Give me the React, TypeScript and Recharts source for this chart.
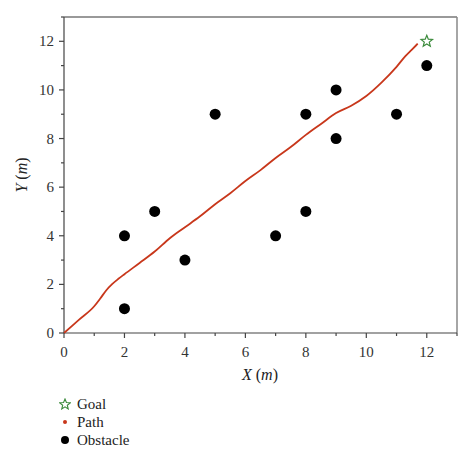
import React from "react";
import {
  ComposedChart,
  Scatter,
  XAxis,
  YAxis,
  ReferenceLine,
} from "recharts";

// path from start to goal
const pathX = [0, 0.5, 1, 1.2, 1.4, 1.6, 1.8, 2, 2.5, 3, 3.5, 4, 4.5, 5, 5.5, 6, 6.5, 7, 7.5, 8, 8.5, 9, 9.5, 10, 10.5, 11, 11.3, 11.5, 11.7];
const pathY = [0, 0.55, 1.1, 1.42, 1.76, 2.02, 2.23, 2.42, 2.88, 3.35, 3.9, 4.35, 4.8, 5.3, 5.75, 6.25, 6.7, 7.2, 7.65, 8.15, 8.6, 9.05, 9.35, 9.75, 10.3, 10.95, 11.4, 11.65, 11.9];

const obstacleX = [2, 2, 3, 4, 5, 7, 8, 8, 9, 9, 11, 12];
const obstacleY = [1, 4, 5, 3, 9, 4, 5, 9, 8, 10, 9, 11];

const goalX = [12];
const goalY = [12];

const axisTicks = [0, 1, 2, 3, 4, 5, 6, 7, 8, 9, 10, 11, 12, 13];

const pathData = pathX.map((x, i) => ({ x, y: pathY[i] }));
const obstacleData = obstacleX.map((x, i) => ({ x, y: obstacleY[i] }));
const goalData = goalX.map((x, i) => ({ x, y: goalY[i] }));

const FONT = "'Liberation Serif', 'DejaVu Serif', serif";
const AXIS = "#444";

function starPoints(cx: number, cy: number, outer: number, inner: number) {
  const pts: string[] = [];
  for (let i = 0; i < 10; i++) {
    const r = i % 2 === 0 ? outer : inner;
    const a = -Math.PI / 2 + (i * Math.PI) / 5;
    pts.push(`${cx + r * Math.cos(a)},${cy + r * Math.sin(a)}`);
  }
  return pts.join(" ");
}

const XTick = (props: any) => {
  const { x, y, payload } = props;
  const major = payload.value % 2 === 0;
  return (
    <g>
      <line x1={x} x2={x} y1={y} y2={y + (major ? 5 : 3)} stroke={AXIS} strokeWidth={1.2} />
      {major && (
        <text x={x} y={y + 24} textAnchor="middle" fontSize={15} fill="#333" fontFamily={FONT}>
          {payload.value}
        </text>
      )}
    </g>
  );
};

const YTick = (props: any) => {
  const { x, y, payload } = props;
  const major = payload.value % 2 === 0;
  return (
    <g>
      <line x1={x} x2={x - (major ? 5 : 3)} y1={y} y2={y} stroke={AXIS} strokeWidth={1.2} />
      {major && (
        <text x={x - 10} y={y + 5} textAnchor="end" fontSize={15} fill="#333" fontFamily={FONT}>
          {payload.value}
        </text>
      )}
    </g>
  );
};

const GoalShape = (props: any) => {
  const { cx, cy } = props;
  return (
    <polygon
      points={starPoints(cx, cy, 6, 2.6)}
      fill="#fff"
      stroke="#3a8a3a"
      strokeWidth={1.2}
    />
  );
};

const ObstacleShape = (props: any) => {
  const { cx, cy } = props;
  return <circle cx={cx} cy={cy} r={5.5} fill="#000" />;
};

const LegendBox = () => {
  const row = { display: "flex", alignItems: "center", height: 18 };
  const txt = { marginLeft: 6, fontSize: 15, color: "#222", fontFamily: FONT };
  return (
    <div style={{ position: "absolute", left: 59, top: 395 }}>
      <div style={row}>
        <svg width={12} height={12}>
          <polygon points={starPoints(6, 6.5, 5.5, 2.4)} fill="#fff" stroke="#3a8a3a" strokeWidth={1.1} />
        </svg>
        <span style={txt}>Goal</span>
      </div>
      <div style={row}>
        <svg width={12} height={12}>
          <circle cx={6} cy={6} r={2} fill="#c8371b" />
        </svg>
        <span style={txt}>Path</span>
      </div>
      <div style={row}>
        <svg width={12} height={12}>
          <circle cx={6} cy={6} r={4} fill="#000" />
        </svg>
        <span style={txt}>Obstacle</span>
      </div>
    </div>
  );
};

export default function App() {
  return (
    <div style={{ position: "absolute", left: 0, top: 0, width: 474, height: 462, background: "#fff" }}>
      <ComposedChart
        width={474}
        height={462}
        margin={{ top: 17, right: 17, bottom: 89, left: 14 }}
      >
        <XAxis
          type="number"
          dataKey="x"
          domain={[0, 13]}
          ticks={axisTicks}
          interval={0}
          tickLine={false}
          tickSize={0}
          tickMargin={0}
          tick={<XTick />}
          height={40}
          stroke={AXIS}
          strokeWidth={1.2}
          label={{
            content: () => (
              <text x={260} y={380} textAnchor="middle" fontSize={16} fill="#222" fontFamily={FONT}>
                <tspan fontStyle="italic">X</tspan> (<tspan fontStyle="italic">m</tspan>)
              </text>
            ),
          }}
        />
        <YAxis
          type="number"
          dataKey="y"
          domain={[0, 13]}
          ticks={axisTicks}
          interval={0}
          tickLine={false}
          tickSize={0}
          tickMargin={0}
          tick={<YTick />}
          width={50}
          stroke={AXIS}
          strokeWidth={1.2}
          label={{
            content: () => (
              <text
                x={27}
                y={175}
                textAnchor="middle"
                fontSize={16}
                fill="#222"
                fontFamily={FONT}
                transform="rotate(-90 27 175)"
              >
                <tspan fontStyle="italic">Y</tspan> (<tspan fontStyle="italic">m</tspan>)
              </text>
            ),
          }}
        />
        <ReferenceLine y={13} stroke="#777" strokeWidth={1.5} />
        <ReferenceLine x={13} stroke="#888" strokeWidth={1.5} />
        <Scatter
          name="Path"
          data={pathData}
          line={{ stroke: "#c8371b", strokeWidth: 1.8 }}
          lineJointType="monotoneX"
          shape={() => <g />}
          isAnimationActive={false}
        />
        <Scatter
          name="Obstacle"
          data={obstacleData}
          shape={<ObstacleShape />}
          isAnimationActive={false}
        />
        <Scatter
          name="Goal"
          data={goalData}
          shape={<GoalShape />}
          isAnimationActive={false}
        />
      </ComposedChart>
      <LegendBox />
    </div>
  );
}
